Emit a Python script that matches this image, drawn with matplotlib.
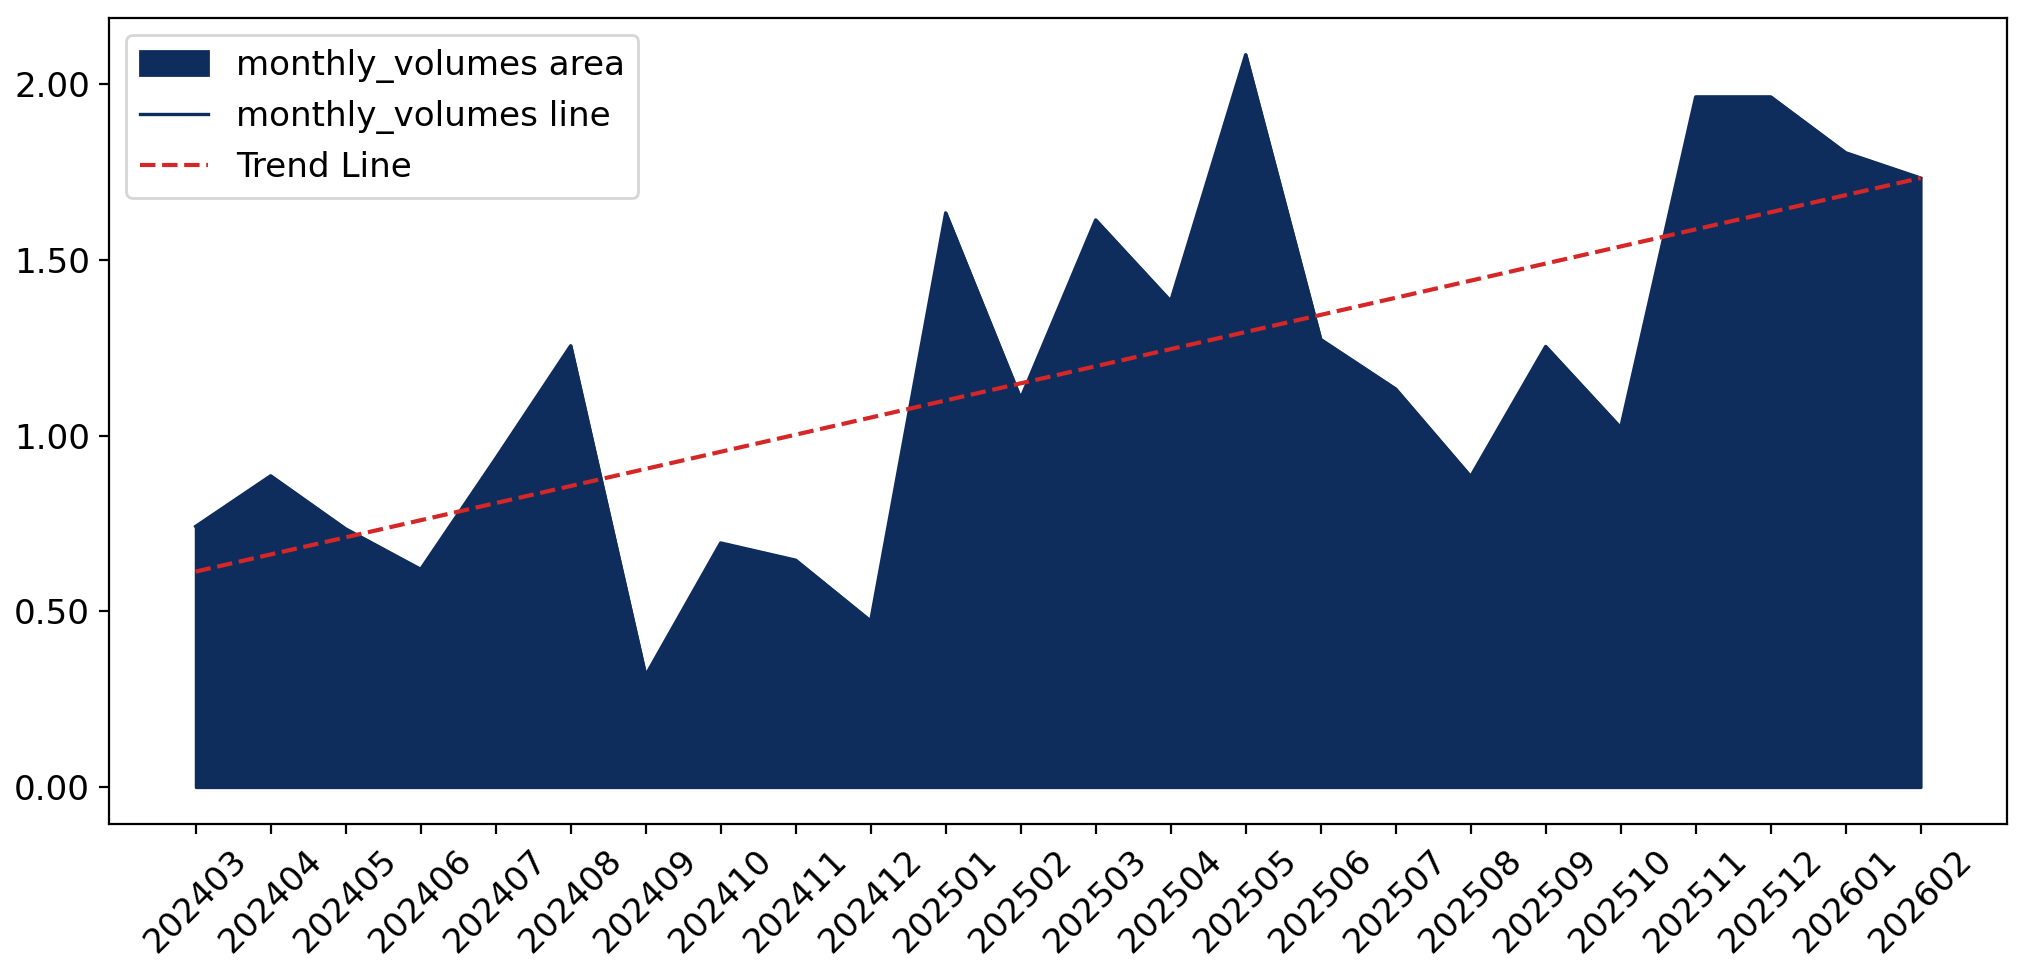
import matplotlib
matplotlib.use("Agg")
import matplotlib.pyplot as plt
import numpy as np

months = [
    "202403", "202404", "202405", "202406", "202407", "202408",
    "202409", "202410", "202411", "202412", "202501", "202502",
    "202503", "202504", "202505", "202506", "202507", "202508",
    "202509", "202510", "202511", "202512", "202601", "202602",
]
monthly_volumes = [
    0.742, 0.886, 0.735, 0.620, 0.935, 1.256,
    0.318, 0.695, 0.646, 0.473, 1.634, 1.106,
    1.614, 1.383, 2.084, 1.274, 1.133, 0.884,
    1.254, 1.023, 1.964, 1.964, 1.805, 1.733,
]

NAVY = "#0e2d5c"
RED = "#d62728"

x = np.arange(len(months))
y = np.array(monthly_volumes)

fig, ax = plt.subplots(figsize=(10.13, 4.875), dpi=200)

ax.fill_between(x, y, color=NAVY, label="monthly_volumes area")
ax.plot(x, y, color=NAVY, linewidth=1.2, label="monthly_volumes line")

# least-squares trend over the month index
slope, intercept = np.polyfit(x, y, 1)
ax.plot(x, slope * x + intercept, color=RED, linestyle="--", linewidth=1.5,
        label="Trend Line")

ax.set_xticks(x)
ax.set_xticklabels(months, rotation=45, fontsize=12.3)
ax.tick_params(axis="y", labelsize=12.3)
ax.yaxis.set_major_formatter(matplotlib.ticker.FormatStrFormatter("%.2f"))
ax.set_yticks([0.0, 0.5, 1.0, 1.5, 2.0])
ax.legend(loc="upper left", fontsize=12.3)

fig.subplots_adjust(left=0.054, right=0.9906, top=0.9815, bottom=0.155)
fig.savefig("out.png", dpi=200)
plt.close(fig)
